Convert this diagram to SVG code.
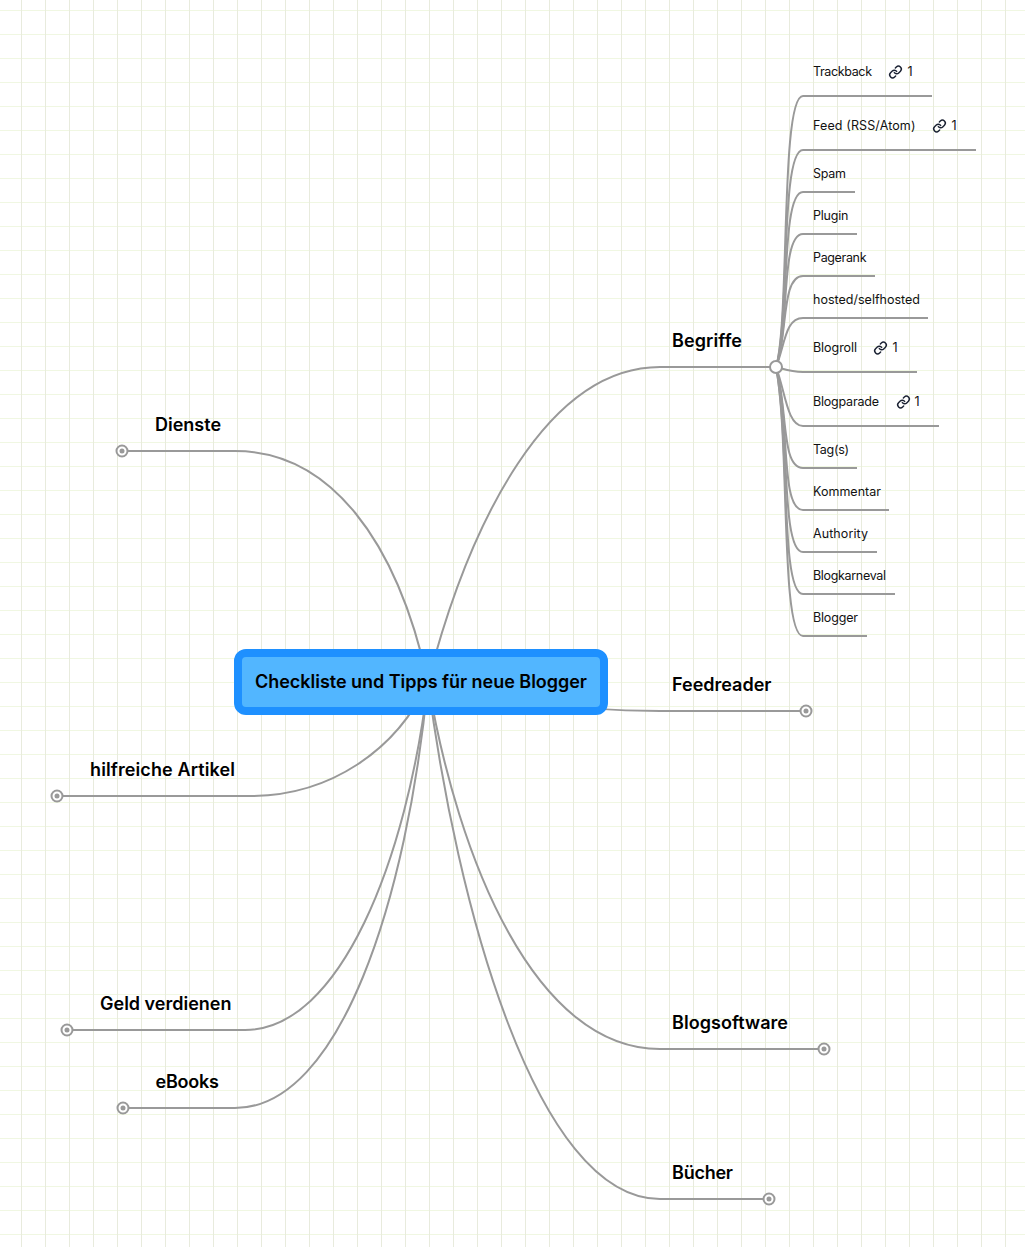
<svg xmlns="http://www.w3.org/2000/svg" width="1025" height="1247" viewBox="0 0 1025 1247">
<style>
.c{fill:none;stroke:#999;stroke-width:2}
.b{font:600 18px Inter,"Noto Sans",sans-serif;fill:#000}
.s{font:400 12.5px Inter,"Noto Sans",sans-serif;fill:#111}
.k{fill:#fff;stroke:#999;stroke-width:2}
.d{fill:#999}
.l{fill:none;stroke:#1b2233;stroke-width:2.5;stroke-linecap:round;stroke-linejoin:round}
</style>
<defs>
<pattern id="g" width="24" height="24" patternUnits="userSpaceOnUse" x="9" y="-2">
<path d="M0 12.5H24" stroke="#f0f7e2" stroke-width="1"/>
<path d="M12.5 0V24" stroke="#e8ebdd" stroke-width="1"/>
</pattern>
<g id="link"><path class="l" transform="scale(.58) translate(-12 -12)" d="M10 13a5 5 0 0 0 7.54.54l3-3a5 5 0 0 0-7.07-7.07l-1.72 1.71M14 11a5 5 0 0 0-7.54-.54l-3 3a5 5 0 0 0 7.07 7.07l1.71-1.71"/></g>
</defs>
<rect width="1025" height="1247" fill="#fff"/>
<rect width="1025" height="1247" fill="url(#g)"/>
<g id="connectors">
<path class="c" d="M428 682C397 540 330 451 235 451H122"/>
<path class="c" d="M428 682C397 750 330 796 250 796H57"/>
<path class="c" d="M428 682C407 860 340 1030 245 1030H67"/>
<path class="c" d="M428 682C407 900 340 1108 235 1108H123"/>
<path class="c" d="M428 682C470 520 548 367 660 367H776"/>
<path class="c" d="M428 682C470 695 560 711 660 711H806"/>
<path class="c" d="M428 682C458 860 535 1049 660 1049H824"/>
<path class="c" d="M428 682C456 900 535 1199 660 1199H769"/>
<path class="c" d="M776 367C790 320 780 96 803 96H932"/>
<path class="c" d="M776 367C790 320 780 150 803 150H976"/>
<path class="c" d="M776 367C790 330 780 192 803 192H855"/>
<path class="c" d="M776 367C790 330 780 234 803 234H857"/>
<path class="c" d="M776 367C788 335 781 276 803 276H875"/>
<path class="c" d="M776 367C785 345 785 318 803 318H928"/>
<path class="c" d="M776 367C784 369 790 372 803 372H917"/>
<path class="c" d="M776 367C785 390 787 426 803 426H939"/>
<path class="c" d="M776 367C788 410 781 468 803 468H857"/>
<path class="c" d="M776 367C790 420 780 510 803 510H889"/>
<path class="c" d="M776 367C790 420 780 552 803 552H877"/>
<path class="c" d="M776 367C790 440 780 594 803 594H895"/>
<path class="c" d="M776 367C790 440 780 636 803 636H867"/>
</g>
<g id="root"><rect x="238" y="653" width="366" height="58" rx="8" fill="#52b6ff" stroke="#1e90ff" stroke-width="8"/><text class="b" x="255" y="688" textLength="332">Checkliste und Tipps für neue Blogger</text></g>
<g id="dienste"><text class="b" x="155" y="431">Dienste</text><circle class="k" cx="122" cy="451" r="5.5"/><circle class="d" cx="122" cy="451" r="2.5"/></g>
<g id="artikel"><text class="b" x="90" y="776" textLength="145">hilfreiche Artikel</text><circle class="k" cx="57" cy="796" r="5.5"/><circle class="d" cx="57" cy="796" r="2.5"/></g>
<g id="geld"><text class="b" x="100" y="1010">Geld verdienen</text><circle class="k" cx="67" cy="1030" r="5.5"/><circle class="d" cx="67" cy="1030" r="2.5"/></g>
<g id="ebooks"><text class="b" x="155.500" y="1088" textLength="63.500">eBooks</text><circle class="k" cx="123" cy="1108" r="5.5"/><circle class="d" cx="123" cy="1108" r="2.5"/></g>
<g id="feedreader"><text class="b" x="672" y="691">Feedreader</text><circle class="k" cx="806" cy="711" r="5.5"/><circle class="d" cx="806" cy="711" r="2.5"/></g>
<g id="blogsoftware"><text class="b" x="672" y="1029" textLength="116">Blogsoftware</text><circle class="k" cx="824" cy="1049" r="5.5"/><circle class="d" cx="824" cy="1049" r="2.5"/></g>
<g id="buecher"><text class="b" x="672" y="1179" textLength="61">Bücher</text><circle class="k" cx="769" cy="1199" r="5.5"/><circle class="d" cx="769" cy="1199" r="2.5"/></g>
<g id="begriffe"><text class="b" x="672" y="347" textLength="70">Begriffe</text><circle class="k" cx="776" cy="367" r="6"/></g>
<g id="trackback"><text class="s" x="813" y="76" textLength="59">Trackback</text><use href="#link" x="895.500" y="72"/><text class="s" x="907.500" y="76">1</text></g>
<g id="feed"><text class="s" x="813" y="130" textLength="102.500">Feed (RSS/Atom)</text><use href="#link" x="939.500" y="126"/><text class="s" x="951.500" y="130">1</text></g>
<g id="spam"><text class="s" x="813" y="178" textLength="33">Spam</text></g>
<g id="plugin"><text class="s" x="813" y="220" textLength="35.500">Plugin</text></g>
<g id="pagerank"><text class="s" x="813" y="262" textLength="53.500">Pagerank</text></g>
<g id="hosted"><text class="s" x="813" y="304" textLength="107">hosted/selfhosted</text></g>
<g id="blogroll"><text class="s" x="813" y="352" textLength="44">Blogroll</text><use href="#link" x="880.500" y="348"/><text class="s" x="892.500" y="352">1</text></g>
<g id="blogparade"><text class="s" x="813" y="406" textLength="66">Blogparade</text><use href="#link" x="903.500" y="402"/><text class="s" x="914.500" y="406">1</text></g>
<g id="tags"><text class="s" x="813" y="454" textLength="36">Tag(s)</text></g>
<g id="kommentar"><text class="s" x="813" y="496" textLength="68">Kommentar</text></g>
<g id="authority"><text class="s" x="813" y="538" textLength="55">Authority</text></g>
<g id="blogkarneval"><text class="s" x="813" y="580" textLength="73">Blogkarneval</text></g>
<g id="blogger"><text class="s" x="813" y="622" textLength="45">Blogger</text></g>
</svg>
